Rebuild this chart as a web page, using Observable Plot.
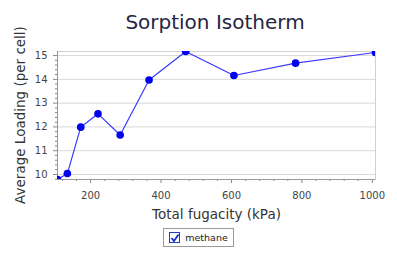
<!DOCTYPE html>
<html>
<head>
<meta charset="utf-8">
<script src="https://cdn.jsdelivr.net/npm/d3@7"></script>
<script src="https://cdn.jsdelivr.net/npm/@observablehq/plot@0.6"></script>
<style>
  html, body { margin: 0; padding: 0; background: #fff; }
  body { width: 397px; height: 263px; overflow: hidden; font-family: "DejaVu Sans", sans-serif; }
  #title { height: 40px; line-height: 44px; text-align: center; font-size: 20px; color: #262640; padding-left: 33px; box-sizing: border-box; }
  #chart svg { display: block; overflow: visible; }
  #legend { display: flex; justify-content: center; padding-left: 0px; }
  .box { display: inline-flex; align-items: center; border: 1px solid #9a9a9a; height: 19px; box-sizing: border-box; padding: 0 5px 0 5px; font-size: 9.5px; color: #222; }
  .chk { width: 11px; height: 11px; border: 1px solid #1a3fbf; box-sizing: border-box; margin-right: 5px; position: relative; }
  .chk svg { position: absolute; left: 0; top: 0; }
</style>
</head>
<body>
<div id="title">Sorption Isotherm</div>
<div id="chart"></div>
<div id="legend"><div class="box"><span class="chk"><svg width="10" height="10" viewBox="0 0 10 10"><path d="M1.5 5 L4 8 L8.5 1.5" fill="none" stroke="#1530d0" stroke-width="1.8"/></svg></span>methane</div></div>
<script>
const fugacity = [106, 134, 172, 221, 284, 366, 470, 607, 782, 1009];
const loading = [9.79, 10.04, 11.99, 12.55, 11.66, 13.97, 15.17, 14.16, 14.68, 15.13];
const xTicks = [200, 400, 600, 800, 1000];
const xMinor = [120, 160, 240, 280, 320, 360, 440, 480, 520, 560, 640, 680, 720, 760, 840, 880, 920, 960];
const yTicks = [10, 11, 12, 13, 14, 15];
const yMinor = [9.8, 10.2, 10.4, 10.6, 10.8, 11.2, 11.4, 11.6, 11.8, 12.2, 12.4, 12.6, 12.8, 13.2, 13.4, 13.6, 13.8, 14.2, 14.4, 14.6, 14.8, 15.2];
const xLabel = "Total fugacity (kPa)";
const yLabel = "Average Loading (per cell)";

const data = fugacity.map((f, i) => ({f, v: loading[i]}));
const yDom = d3.extent(loading);

const chart = Plot.plot({
  width: 397,
  height: 188,
  marginLeft: 57,
  marginRight: 22,
  marginTop: 11,
  marginBottom: 49,
  style: {fontFamily: "DejaVu Sans, sans-serif", fontSize: "10px", color: "#444", overflow: "visible"},
  x: {domain: d3.extent(fugacity)},
  y: {domain: yDom},
  marks: [
    Plot.gridY(yTicks, {stroke: "#d8d8d8", strokeOpacity: 1}),
    Plot.frame({stroke: "#d0d0d0"}),
    Plot.axisX(xTicks, {tickSize: 4, tickPadding: 8, stroke: "#888", fill: "#444", label: null, tickFormat: d3.format("d")}),
    Plot.axisX(xMinor, {tickSize: 2, text: null, stroke: "#888", label: null}),
    Plot.axisY(yTicks, {tickSize: 4, tickPadding: 6, stroke: "#888", fill: "#444", label: null}),
    Plot.axisY(yMinor.filter(t => t >= yDom[0] && t <= yDom[1]), {tickSize: 2, text: null, stroke: "#888", label: null}),
    Plot.ruleX([d3.min(fugacity)], {stroke: "#999"}),
    Plot.ruleY([yDom[0]], {stroke: "#999"}),
    Plot.line(data, {x: "f", y: "v", stroke: "#3a3aff", strokeWidth: 1.2, clip: true}),
    Plot.dot(data, {x: "f", y: "v", r: 3.8, fill: "#0000ee", clip: true}),
    Plot.text([xLabel], {frameAnchor: "bottom", dy: 39, fontSize: 13.5, fill: "#333"})
  ]
});
d3.select(chart).append("text")
  .attr("transform", "translate(20,75) rotate(-90)")
  .attr("text-anchor", "middle")
  .attr("dominant-baseline", "central")
  .attr("font-size", 13.5)
  .attr("font-family", "DejaVu Sans, sans-serif")
  .attr("fill", "#333")
  .text(yLabel);
chart.style.overflow = "visible";
document.getElementById("chart").append(chart);
</script>
</body>
</html>
